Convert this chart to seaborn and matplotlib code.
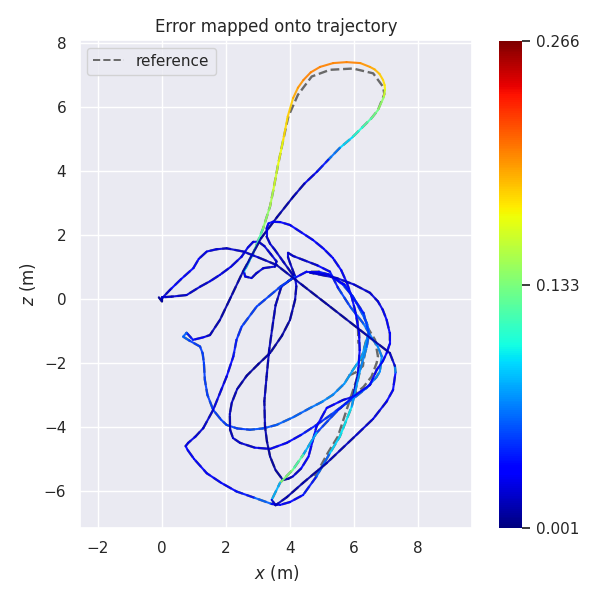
import numpy as np
import matplotlib
matplotlib.use("Agg")
import matplotlib.pyplot as plt
import seaborn as sns
from matplotlib.collections import LineCollection

# origin, small loop, up the teardrop
up_x = [-0.1, 0.0, 0.0, 0.3, 0.77, 1.19, 1.5, 1.81, 2.15, 2.49, 2.68, 2.85, 3.01, 3.2, 3.4, 3.58, 3.53, 3.17, 2.95, 2.8, 2.6, 2.56, 2.85, 3.16, 3.38, 3.48, 3.63, 3.79, 3.93, 4.1, 4.25, 4.42, 4.65, 4.94, 5.35, 5.77, 6.2, 6.5, 6.65, 6.8, 6.91, 6.96, 6.97]
up_z = [0.05, -0.08, 0.05, 0.07, 0.12, 0.38, 0.55, 0.75, 1.0, 1.32, 1.6, 1.78, 1.79, 1.65, 1.4, 1.17, 1.01, 0.96, 0.8, 0.65, 0.7, 0.85, 1.43, 2.2, 2.9, 3.4, 4.2, 4.97, 5.7, 6.28, 6.6, 6.84, 7.08, 7.25, 7.37, 7.4, 7.37, 7.25, 7.17, 7.03, 6.84, 6.68, 6.53]
up_e = [0.01, 0.01, 0.01, 0.02, 0.02, 0.02, 0.02, 0.025, 0.025, 0.025, 0.025, 0.025, 0.025, 0.02, 0.02, 0.02, 0.02, 0.02, 0.02, 0.02, 0.02, 0.03, 0.09, 0.12, 0.14, 0.15, 0.16, 0.17, 0.18, 0.185, 0.195, 0.2, 0.205, 0.205, 0.205, 0.205, 0.205, 0.2, 0.195, 0.19, 0.185, 0.18, 0.175]

# teardrop back down, then the first big sweep
down_x = [6.93, 6.75, 6.55, 6.28, 5.95, 5.56, 5.2, 4.84, 4.45, 4.1, 3.6, 3.1, 2.53, 2.15, 1.81, 1.5, 1.3, 0.97, 0.77, 0.66, 0.85, 1.19, 1.27, 1.31, 1.34, 1.42, 1.6, 1.85, 2.02, 2.35, 2.75, 3.15, 3.58, 4.1, 4.63, 5.0, 5.34, 5.7, 5.97, 6.25, 6.4, 6.47, 6.4, 6.2, 5.97, 5.65, 5.25, 4.9, 4.52, 4.16]
down_z = [6.3, 5.9, 5.65, 5.38, 5.05, 4.72, 4.35, 3.97, 3.6, 3.19, 2.56, 1.9, 0.85, 0.05, -0.66, -1.13, -1.2, -1.28, -1.06, -1.18, -1.3, -1.49, -1.7, -2.0, -2.53, -3.0, -3.47, -3.78, -3.94, -4.05, -4.09, -4.05, -3.94, -3.7, -3.41, -3.22, -3.0, -2.65, -2.22, -1.8, -1.28, -1.0, -0.75, -0.35, 0.07, 0.45, 0.75, 0.85, 0.85, 0.66]
down_e = [0.16, 0.14, 0.13, 0.12, 0.105, 0.09, 0.065, 0.04, 0.025, 0.015, 0.012, 0.01, 0.01, 0.012, 0.012, 0.015, 0.02, 0.03, 0.04, 0.06, 0.06, 0.05, 0.05, 0.05, 0.05, 0.05, 0.05, 0.05, 0.05, 0.05, 0.05, 0.055, 0.055, 0.06, 0.06, 0.065, 0.07, 0.07, 0.075, 0.08, 0.075, 0.07, 0.065, 0.06, 0.05, 0.05, 0.04, 0.04, 0.035, 0.03]

# dark inner loop through the middle
mid_x = [4.2, 4.16, 4.0, 3.75, 3.38, 3.0, 2.65, 2.35, 2.18, 2.12, 2.13, 2.22, 2.44, 2.9, 3.38, 3.9, 4.35, 4.83, 5.2, 5.56, 6.0, 6.4, 6.7, 6.81, 6.87, 6.75, 6.6, 6.28, 5.88, 5.5, 5.25, 4.85, 4.41, 4.1, 3.94, 3.94, 4.0, 4.16, 3.95, 3.73, 3.55, 3.47, 3.35, 3.27, 3.2, 3.22, 3.28, 3.38, 3.55, 3.78, 3.95, 4.09, 4.35, 4.58, 4.83, 5.15, 5.66, 5.97, 6.13, 6.18, 6.16, 6.1, 6.03, 5.92, 5.78, 5.6, 5.34, 5.05, 4.72, 4.0, 3.7, 3.47, 3.33, 3.27, 3.27, 3.38, 3.53, 3.8, 4.09, 4.16]
mid_z = [0.4, -0.03, -0.66, -1.15, -1.69, -2.05, -2.4, -2.82, -3.25, -3.6, -4.09, -4.35, -4.5, -4.65, -4.69, -4.5, -4.25, -3.94, -3.68, -3.41, -3.1, -2.78, -2.45, -2.27, -1.8, -1.5, -1.28, -0.75, -0.24, 0.35, 0.85, 1.05, 1.22, 1.34, 1.44, 1.3, 1.13, 0.7, 0.55, 0.38, -0.2, -0.75, -1.6, -2.43, -3.2, -3.99, -4.45, -4.93, -5.35, -5.66, -5.62, -5.55, -5.3, -4.93, -3.99, -3.41, -3.16, -3.06, -2.31, -1.6, -1.07, -0.7, -0.34, 0.1, 0.5, 0.9, 1.28, 1.57, 1.84, 2.31, 2.4, 2.41, 2.36, 2.2, 1.95, 1.72, 1.53, 1.15, 0.75, 0.7]
mid_e = [0.02, 0.015, 0.012, 0.01, 0.01, 0.01, 0.01, 0.012, 0.015, 0.015, 0.015, 0.015, 0.02, 0.02, 0.025, 0.03, 0.035, 0.04, 0.045, 0.05, 0.06, 0.06, 0.065, 0.07, 0.07, 0.07, 0.07, 0.065, 0.055, 0.05, 0.04, 0.03, 0.02, 0.02, 0.02, 0.02, 0.02, 0.015, 0.015, 0.015, 0.015, 0.015, 0.015, 0.015, 0.015, 0.015, 0.012, 0.01, 0.01, 0.01, 0.012, 0.015, 0.02, 0.03, 0.03, 0.03, 0.03, 0.025, 0.02, 0.03, 0.03, 0.03, 0.03, 0.03, 0.03, 0.03, 0.03, 0.03, 0.03, 0.03, 0.03, 0.035, 0.03, 0.03, 0.025, 0.02, 0.02, 0.02, 0.015, 0.015]

# left sweep to the bottom tip and cyan strand up again
left_x = [3.7, 2.96, 2.49, 2.33, 2.23, 2.02, 1.85, 1.6, 1.29, 1.05, 0.82, 0.74, 0.8, 1.0, 1.4, 1.85, 2.33, 2.9, 3.43, 3.69, 4.0, 4.41, 4.83, 5.25, 5.56, 5.93, 6.2, 6.4, 6.47, 6.3, 5.7, 5.2, 4.63]
left_z = [0.38, -0.24, -0.87, -1.28, -1.8, -2.43, -2.85, -3.47, -4.04, -4.3, -4.5, -4.6, -4.72, -5.0, -5.45, -5.75, -6.02, -6.22, -6.41, -6.44, -6.35, -6.13, -5.55, -4.82, -4.3, -3.37, -2.2, -1.5, -1.1, -0.44, 0.45, 0.76, 0.82]
left_e = [0.05, 0.05, 0.05, 0.045, 0.04, 0.03, 0.025, 0.025, 0.02, 0.02, 0.025, 0.025, 0.03, 0.03, 0.03, 0.035, 0.035, 0.04, 0.06, 0.03, 0.03, 0.035, 0.04, 0.06, 0.09, 0.095, 0.075, 0.07, 0.06, 0.05, 0.04, 0.03, 0.025]

# outer strand, bottom tip again, back along the long straight line to the origin
out_x = [5.46, 6.0, 6.5, 6.75, 6.9, 7.02, 7.12, 7.12, 7.02, 6.9, 6.71, 6.5, 5.97, 5.46, 4.83, 4.41, 4.09, 3.69, 3.43, 3.55, 3.9, 4.41, 5.15, 6.08, 6.6, 7.02, 7.22, 7.3, 7.28, 7.12, 6.2, 5.2, 4.4, 3.58, 3.0, 2.54, 2.02, 1.7, 1.4, 1.15, 0.98, 0.6, 0.25, 0.0]
out_z = [0.65, 0.45, 0.19, -0.08, -0.34, -0.65, -1.07, -1.4, -1.7, -1.95, -2.22, -2.69, -3.06, -3.52, -4.19, -4.88, -5.34, -5.75, -6.28, -6.45, -6.2, -5.75, -5.13, -4.25, -3.75, -3.21, -2.85, -2.3, -2.1, -1.69, -0.98, -0.2, 0.42, 1.06, 1.3, 1.48, 1.58, 1.55, 1.48, 1.25, 0.96, 0.62, 0.28, 0.02]
out_e = [0.02, 0.02, 0.02, 0.022, 0.025, 0.028, 0.03, 0.03, 0.03, 0.03, 0.03, 0.035, 0.03, 0.04, 0.05, 0.08, 0.12, 0.135, 0.08, 0.02, 0.015, 0.012, 0.012, 0.015, 0.02, 0.025, 0.03, 0.035, 0.07, 0.02, 0.012, 0.01, 0.01, 0.012, 0.015, 0.02, 0.02, 0.02, 0.025, 0.025, 0.03, 0.03, 0.035, 0.02]

# reference differs from the estimate on the teardrop, and a little elsewhere
ref_top_x = [3.79, 3.95, 4.25, 4.68, 5.25, 5.97, 6.6, 6.91, 6.95, 6.75]
ref_top_z = [4.97, 5.7, 6.38, 6.95, 7.16, 7.2, 7.05, 6.63, 6.4, 5.9]
ref_low_x = [6.38, 6.08, 5.77, 5.5, 5.18, 4.78]
ref_low_z = [-1.3, -2.53, -3.47, -4.3, -4.82, -5.55]
ref_mid_x = [6.4, 6.66, 6.75, 6.71, 6.55, 6.3, 6.0]
ref_mid_z = [-0.85, -1.28, -1.8, -2.0, -2.43, -2.75, -3.0]
ref_inner_x = [6.42, 6.34, 6.28, 6.05, 5.77]
ref_inner_z = [-1.2, -1.7, -2.1, -2.3, -2.43]
ref_side_x = [6.1, 6.13, 6.14]
ref_side_z = [-0.5, -1.0, -1.4]

err_min, err_mid, err_max = 0.001, 0.133, 0.266

est_x = up_x + down_x + mid_x + left_x + out_x
est_z = up_z + down_z + mid_z + left_z + out_z
est_e = up_e + down_e + mid_e + left_e + out_e

sns.set_theme(style="darkgrid")
plt.rcParams['font.family'] = ['DejaVu Sans']

fig = plt.figure(figsize=(6, 6.01), dpi=100)
ax = fig.add_axes([79.5 / 600, 1 - 528 / 601, 392.5 / 600, 488 / 601])
cax = fig.add_axes([499 / 600, 1 - 528 / 601, 23 / 600, 487 / 601])

# the reference goes under the coloured line and shows through it
ref_parts = [
    (up_x[:27] + ref_top_x + down_x[2:], up_z[:27] + ref_top_z + down_z[2:]),
    (ref_low_x, ref_low_z),
    (ref_mid_x, ref_mid_z),
    (ref_inner_x, ref_inner_z),
    (ref_side_x, ref_side_z),
    (mid_x + left_x + out_x, mid_z + left_z + out_z),
]
for i, (rx, rz) in enumerate(ref_parts):
    sns.lineplot(x=rx, y=rz, sort=False, estimator=None, ax=ax, color="dimgray",
                 linestyle="--", linewidth=1.7, zorder=2, label="reference" if i == 0 else None)

points = np.column_stack([est_x, est_z])
segments = np.stack([points[:-1], points[1:]], axis=1)
line = LineCollection(segments, cmap="jet", norm=plt.Normalize(err_min, err_max),
                      linewidth=1.5, capstyle="round", alpha=0.92, zorder=3)
line.set_array(np.array(est_e[1:]))
ax.add_collection(line)

ax.set_xlim(-2.578, 9.69)
ax.set_ylim(-7.16, 8.09)
ax.set_aspect("equal", adjustable="box")
ax.set_xticks([-2, 0, 2, 4, 6, 8])
ax.set_yticks([-6, -4, -2, 0, 2, 4, 6, 8])
ax.set_xticklabels(["\u22122", "0", "2", "4", "6", "8"])
ax.set_yticklabels(["\u22126", "\u22124", "\u22122", "0", "2", "4", "6", "8"])
ax.set_xlabel("$x$ (m)", fontsize=12, x=0.5013, labelpad=4.7)
ax.set_ylabel("$z$ (m)", fontsize=12)
ax.set_title("Error mapped onto trajectory", fontsize=12, pad=6, x=0.5013)
ax.tick_params(labelsize=11)
leg = ax.legend(loc="upper left", fontsize=11)
leg.get_lines()[0].set_linewidth(1.4)

cb = fig.colorbar(line, cax=cax, ticks=[err_min, err_mid, err_max])
cb.solids.set_alpha(1)
cb.ax.set_yticklabels(["0.001", "0.133", "0.266"])
cb.ax.tick_params(size=6, width=1.25, color=".15", labelsize=11, pad=4)
cb.outline.set_visible(False)

fig.savefig("out.png", dpi=100)
